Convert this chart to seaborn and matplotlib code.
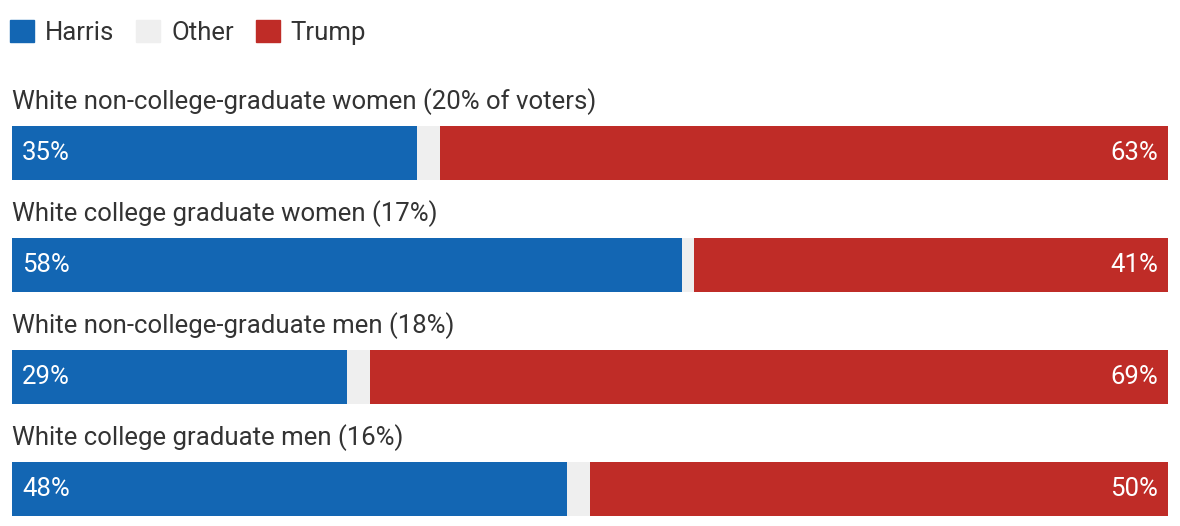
import matplotlib
matplotlib.use("Agg")
import matplotlib.pyplot as plt
import seaborn as sns
import pandas as pd
from matplotlib.patches import Patch

# ---------------------- DATA ----------------------
groups = [
    "White non-college-graduate women (20% of voters)",
    "White college graduate women (17%)",
    "White non-college-graduate men (18%)",
    "White college graduate men (16%)",
]
harris = [35, 58, 29, 48]
trump = [63, 41, 69, 50]
other = [100 - h - t for h, t in zip(harris, trump)]

df = pd.DataFrame({"group": groups, "Harris": harris, "Other": other, "Trump": trump})
df["harris_other"] = df["Harris"] + df["Other"]
df["total"] = df["Harris"] + df["Other"] + df["Trump"]

BLUE = "#1366b3"
GREY = "#efefef"
RED = "#bf2c27"
TEXT = "#333333"
FS = 18.5

# ---------------------- PLOT ----------------------
sns.set_style("white")
plt.rcParams["font.family"] = ["Roboto", "DejaVu Sans"]

fig = plt.figure(figsize=(11.8, 5.26), dpi=100)
ax = fig.add_axes([0, 0, 1, 1])

# stacked bars drawn as layered cumulative bars
for col, c in [("total", RED), ("harris_other", GREY), ("Harris", BLUE)]:
    sns.barplot(data=df, y="group", x=col, color=c, saturation=1, width=0.482,
                ax=ax, orient="h", errorbar=None)
for p in ax.patches:
    p.set_linewidth(0)

px = 100 / 1156
ax.set_xlim(-12 * px, 100 + 12 * px)
ax.set_ylim((526 - 153) / 112, -153 / 112)
ax.axis("off")

for i, row in df.iterrows():
    ax.text(0, i - 43.5 / 112, row["group"], fontsize=FS, color=TEXT, va="baseline", ha="left")
    ax.text(10 * px, i, f"{row['Harris']}%", fontsize=FS, color="white", va="center", ha="left")
    ax.text(100 - 10 * px, i, f"{row['Trump']}%", fontsize=FS, color="white", va="center", ha="right")

handles = [Patch(color=BLUE, label="Harris"), Patch(color=GREY, label="Other"), Patch(color=RED, label="Trump")]
ax.legend(handles=handles, loc="upper left", bbox_to_anchor=(10 / 1180, 1 - 20 / 526), ncol=3, frameon=False,
          fontsize=FS, handlelength=0.93, handleheight=0.93, handletextpad=0.43, columnspacing=0.85,
          borderaxespad=0, borderpad=0, labelcolor=TEXT)

plt.savefig("out.png", dpi=100)
